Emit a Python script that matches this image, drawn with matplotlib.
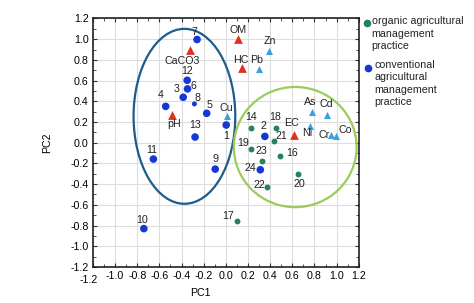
import numpy as np
import matplotlib.pyplot as plt
import matplotlib.transforms as mtransforms
from matplotlib.patches import Ellipse

plt.rcParams['font.family'] = ['Liberation Sans', 'DejaVu Sans']
plt.rcParams['font.size'] = 7.7

# conventional samples (blue)
conv_id = ['1', '2', '3', '4', '5', '6', '7', '8', '9', '10', '11', '12', '13', '24']
conv_x = [0.003, 0.352, -0.385, -0.543, -0.173, -0.346, -0.26, -0.284, -0.096, -0.74, -0.654, -0.349, -0.278, 0.311]
conv_y = [0.171, 0.061, 0.439, 0.351, 0.284, 0.52, 0.997, 0.375, -0.255, -0.83, -0.158, 0.603, 0.055, -0.261]
conv_size = [30, 30, 30, 30, 30, 30, 30, 13, 30, 30, 30, 30, 30, 30]

# organic samples (green)
org_id = ['14', '16', '17', '18', '19', '20', '21', '22', '23']
org_x = [0.224, 0.486, 0.105, 0.457, 0.224, 0.647, 0.432, 0.367, 0.329]
org_y = [0.142, -0.133, -0.755, 0.142, -0.061, -0.303, 0.013, -0.429, -0.174]

# soil properties (red triangles)
prop_id = ['CaCO3', 'pH', 'OM', 'HC', 'EC']
prop_x = [-0.325, -0.483, 0.11, 0.143, 0.611]
prop_y = [0.9, 0.264, 0.997, 0.723, 0.077]

# metals (light blue triangles)
metal_id = ['Cu', 'Zn', 'Pb', 'As', 'Cd', 'Ni', 'Cr', 'Co']
metal_x = [0.009, 0.385, 0.295, 0.779, 0.91, 0.755, 0.949, 0.994]
metal_y = [0.255, 0.884, 0.716, 0.293, 0.264, 0.158, 0.077, 0.061]

ticks = [-1.2, -1.0, -0.8, -0.6, -0.4, -0.2, 0.0, 0.2, 0.4, 0.6, 0.8, 1.0, 1.2]
tick_labels = ['-1.2', '-1.0', '-0.8', '-0.6', '-0.4', '-0.2', '0.0', '0.2', '0.4', '0.6', '0.8', '1.0', '1.2']

# label offsets in pixels (dx, dy)
offs = {
    '1': (0, -11), '2': (-1, 10), '3': (-7, 8), '4': (-5, 11), '5': (3, 8),
    '6': (6, 3), '7': (-3, 7), '8': (3, 6), '9': (0, 10), '10': (-2, 9),
    '11': (-2, 9), '12': (0, 9), '13': (0, 12), '24': (-10, 2),
    '14': (0, 11), '16': (12, 3), '17': (-9, 5), '18': (-1, 11), '19': (-8, 6),
    '20': (2, -10), '21': (8, 5), '22': (-7, 2), '23': (-1, 10),
    'CaCO3': (-8, -11), 'pH': (2, -9), 'OM': (0, 9), 'HC': (-1, 8), 'EC': (-2, 12),
    'Cu': (-1, 8), 'Zn': (1, 10), 'Pb': (-2, 9), 'As': (-2, 10), 'Cd': (0, 11),
    'Ni': (-2, -7), 'Cr': (-7, 0), 'Co': (9, 6),
}

blue = '#1737d4'
green = '#23845a'
red = '#e0301e'
lblue = '#3b9fe0'

fig = plt.figure(figsize=(4.74, 3.03), dpi=100)
ax = fig.add_axes([0.196, 0.119, 0.561, 0.82])

ax.add_patch(Ellipse((-0.374, 0.255), 0.918, 1.69, fill=False, ec='#1d5c8c', lw=1.6, zorder=2))
ax.add_patch(Ellipse((0.626, -0.042), 1.108, 1.161, fill=False, ec='#9acb5c', lw=1.6, zorder=2))

ax.scatter(conv_x, conv_y, s=conv_size, color=blue, zorder=3, lw=0)
ax.scatter(org_x, org_y, s=18, color=green, zorder=3, lw=0)
ax.scatter(prop_x, prop_y, s=40, marker='^', color=red, zorder=3, lw=0)
ax.scatter(metal_x, metal_y, s=26, marker='^', color=lblue, zorder=3, lw=0)

for ids, xs, ys in [(conv_id, conv_x, conv_y), (org_id, org_x, org_y),
                    (prop_id, prop_x, prop_y), (metal_id, metal_x, metal_y)]:
    for t, x, y in zip(ids, xs, ys):
        ax.annotate(t, (x, y), xytext=offs[t], textcoords='offset pixels',
                    ha='center', va='center', color='#222222', zorder=4)

ax.set_xlim(-1.2, 1.2)
ax.set_ylim(-1.2, 1.2)
ax.set_xticks(ticks)
ax.set_yticks(ticks)
ax.set_xticklabels(tick_labels)
ax.set_yticklabels(tick_labels)
ax.set_xticks(np.arange(-1.1, 1.2, 0.2), minor=True)
ax.set_yticks(np.arange(-1.1, 1.2, 0.2), minor=True)
ax.tick_params(which='both', direction='in', top=True, right=True, color='#333333')
ax.tick_params(which='major', length=3, pad=3)
ax.tick_params(which='minor', length=2)
ax.grid(True, which='major', color='#dddddd', lw=0.8)
ax.set_axisbelow(True)
for s in ax.spines.values():
    s.set_linewidth(1.2)
    s.set_color('#222222')

# first x tick label sits a bit lower / left
lab = ax.xaxis.get_major_ticks()[0].label1
lab.set_transform(lab.get_transform() + mtransforms.ScaledTranslation(-0.04, -0.04, fig.dpi_scale_trans))

ax.set_xlabel('PC1')
ax.set_ylabel('PC2')
ax.xaxis.set_label_coords(0.406, -0.085)
ax.yaxis.set_label_coords(-0.155, 0.5)

# legend drawn by hand
ax.plot([1.030], [0.982], 'o', ms=4.5, color=green, transform=ax.transAxes, clip_on=False)
ax.text(1.048, 1.008, 'organic agricultural\nmanagement\npractice', transform=ax.transAxes,
        va='top', ha='left', linespacing=1.3, color='#222222')
ax.plot([1.036], [0.800], 'o', ms=4.5, color=blue, transform=ax.transAxes, clip_on=False)
ax.text(1.058, 0.834, 'conventional\nagricultural\nmanagement\npractice', transform=ax.transAxes,
        va='top', ha='left', linespacing=1.3, color='#222222')

fig.savefig('out.png', dpi=100)
